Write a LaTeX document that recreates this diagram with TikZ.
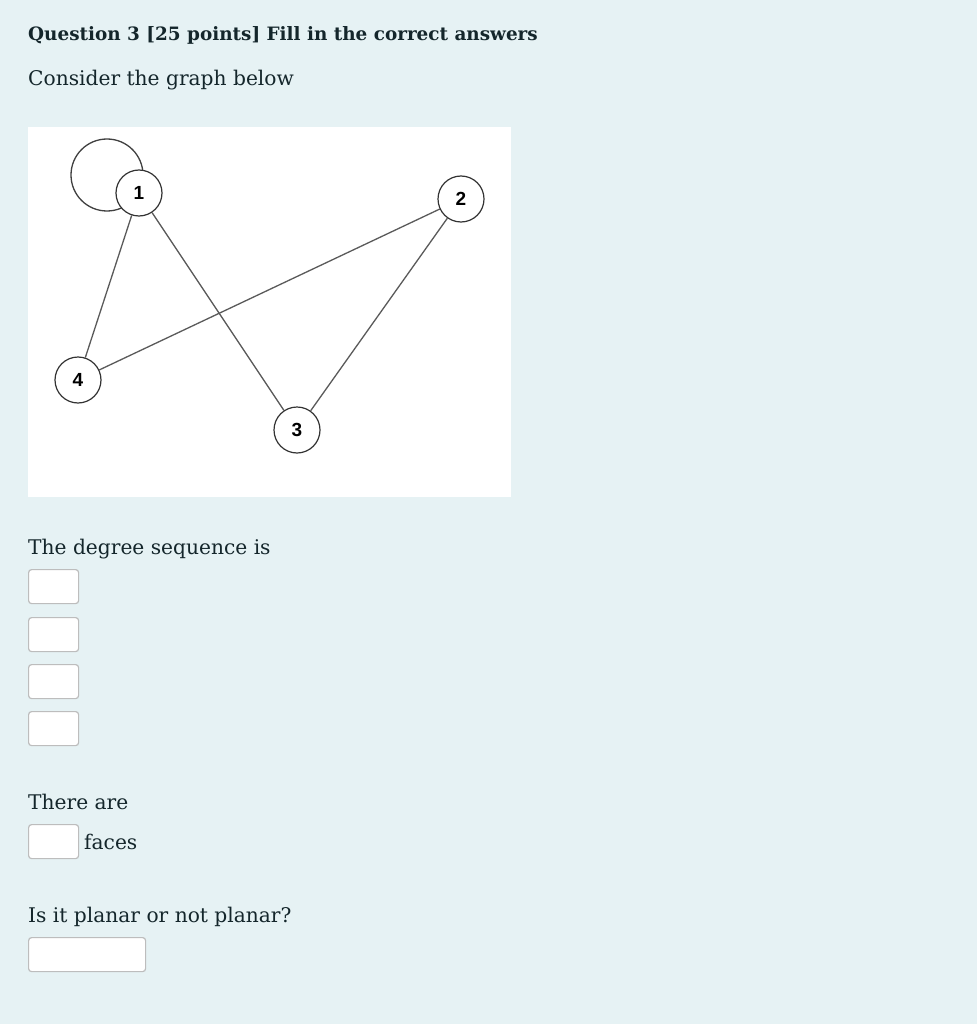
\documentclass[tikz,border=0pt]{standalone}
\usepackage{fontspec}
\setmainfont{DejaVu Serif}
\newfontfamily\labelfont{Liberation Sans}
\usetikzlibrary{positioning}
\definecolor{pagebg}{HTML}{E6F2F4}
\definecolor{inktext}{HTML}{14262B}
\definecolor{boxline}{HTML}{BDBDBD}
\definecolor{edgegray}{HTML}{5A5A5A}
\tikzset{
    % Text
    heading/.style={anchor=base west,inner sep=0pt,text=inktext,font=\fontsize{18.4}{22}\selectfont\bfseries},
    plain text/.style={anchor=base west,inner sep=0pt,text=inktext,font=\fontsize{20.2}{24}\selectfont},
    %
    % Graph
    vertex/.style={circle,draw=black!80,fill=white,line width=1.2pt,minimum size=46pt,inner sep=0pt,font=\labelfont\fontsize{19}{19}\selectfont\bfseries},
    edge/.style={draw=edgegray,line width=1.3pt},
    %
    % Answer boxes
    answer box/.style={draw=boxline,fill=white,line width=1.2pt,rounded corners=3pt,minimum height=34pt,inner sep=0pt,anchor=north west}
}

\begin{document}
\begin{tikzpicture}[x=1pt,y=-1pt]
    \fill[pagebg] (0,0) rectangle (977,1024);
    \useasboundingbox (0,0) rectangle (977,1024);

    \node[heading] (title) at (28,41) {Question 3 [25 points] Fill in the correct answers};
    \node[plain text] (intro) at (28,86) {Consider the graph below};

    % the graph panel
    \fill[white] (28,127) rectangle (511,497);
    \coordinate (loopc) at (107,175);
    \draw[edge,draw=black!75] (loopc) circle[radius=36];
    \node[vertex] (v1) at (139,193) {1};
    \node[vertex] (v2) at (461,199) {2};
    \node[vertex] (v3) at (297,430) {3};
    \node[vertex] (v4) at (78,380) {4};
    \draw[edge] (v1) -- (v4);
    \draw[edge] (v1) -- (v3);
    \draw[edge] (v4) -- (v2);
    \draw[edge] (v2) -- (v3);

    % degree sequence
    \node[plain text] (degtext) at (28,554) {The degree sequence is};
    \foreach \i/\y in {1/569,2/617,3/664,4/711}{
        \node[answer box,minimum width=50pt] (deg\i) at (28,\y) {};
    }

    % faces
    \node[plain text] (theretext) at (28,809) {There are};
    \node[answer box,minimum width=50pt] (facebox) at (28,824) {};
    \node[plain text] (facetext) at (84,849) {faces};

    % planarity
    \node[plain text] (planartext) at (28,922) {Is it planar or not planar?};
    \node[answer box,minimum width=117pt] (planarbox) at (28,937) {};
\end{tikzpicture}
\end{document}
